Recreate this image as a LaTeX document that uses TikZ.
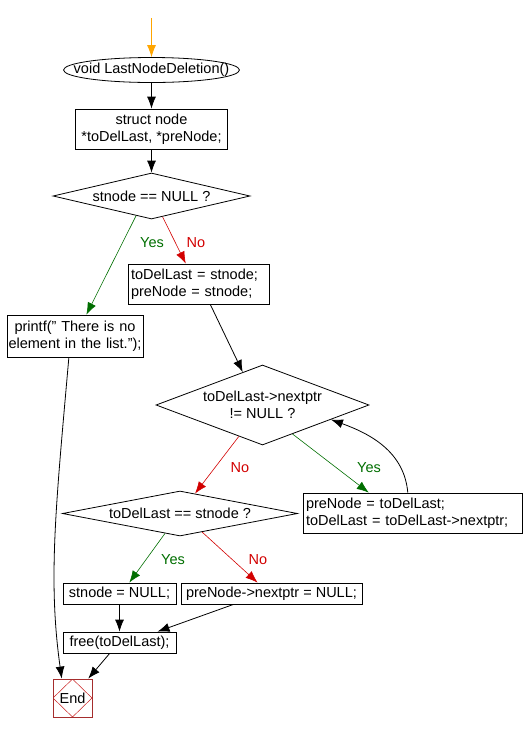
\documentclass[tikz,border=0pt]{standalone}
\usepackage{tikz}
\usepackage{xcolor}
\usepackage{fontspec}
\setmainfont{Liberation Sans}
\usetikzlibrary{shapes.geometric,arrows.meta}
\definecolor{startorange}{RGB}{255, 165, 0}
\definecolor{yesgreen}{RGB}{0, 110, 0}
\definecolor{nored}{RGB}{210, 0, 0}
\definecolor{endframe}{RGB}{165, 45, 45}
\definecolor{enddiag}{RGB}{200, 30, 30}

\begin{document}
\begin{tikzpicture}[x=1pt, y=1pt,
        font=\fontsize{14.5}{17}\selectfont,
        every node/.style={inner sep=0pt},
        box/.style={draw, line width=0.8pt, minimum height=21pt, align=center},
        leftbox/.style={draw, line width=0.8pt, align=left, inner xsep=3pt, minimum height=40pt},
        test/.style={draw, diamond, line width=0.8pt, align=center},
        flow/.style={line width=0.8pt, -{Latex[length=12pt,width=9pt]}},
        yesflow/.style={flow, yesgreen, line width=0.6pt},
        noflow/.style={flow, nored, line width=0.6pt},
        yeslbl/.style={text=yesgreen},
        nolbl/.style={text=nored}]
        \useasboundingbox (0,0) rectangle (524,-732);

        % blocks
        \node[draw, ellipse, line width=0.8pt, minimum width=176pt, minimum height=25pt] (func) at (151.5,-70) {\makebox[100pt]{void LastNodeDeletion()}};
        \node[box, minimum width=152pt, minimum height=40pt] (decl) at (151.5,-129) {struct node\\{}*toDelLast, *preNode;};
        \node[test, aspect=4.28, minimum width=197pt, minimum height=46pt] (chkempty) at (151.5,-196) {stnode == NULL ?};
        \node[leftbox, text width=135pt] (init) at (198.5,-284) {toDelLast = stnode;\\preNode = stnode;};
        \node[box, text width=136pt, minimum height=42pt] (msg) at (75,-336) {printf(" There is no\\element in the list.");};
        \node[test, aspect=2.66, minimum width=213pt, minimum height=80pt] (chknext) at (262.5,-405) {toDelLast->nextptr\\!= NULL ?};
        \node[leftbox, text width=213pt] (advance) at (412.5,-513) {preNode = toDelLast;\\toDelLast = toDelLast->nextptr;};
        \node[test, aspect=5.2, minimum width=235pt, minimum height=45pt] (chklast) at (180,-513.5) {toDelLast == stnode ?};
        \node[box, minimum width=113pt] (setnull) at (119.5,-593.5) {stnode = NULL;};
        \node[box, minimum width=181pt] (unlink) at (271.5,-593.5) {preNode->nextptr = NULL;};
        \node[box, minimum width=113pt] (free) at (119.5,-642.5) {free(toDelLast);};
        \node[draw=endframe, line width=0.8pt, minimum width=39pt, minimum height=38pt,
            path picture={\draw[enddiag, line width=0.5pt] (path picture bounding box.north) -- (path picture bounding box.east)
                -- (path picture bounding box.south) -- (path picture bounding box.west) -- cycle;}] (stop) at (72.5,-698) {End};

        % labels
        \node[yeslbl] (yes1) at (152,-243) {Yes};
        \node[nolbl] (no1) at (196,-243) {No};
        \node[nolbl] (no2) at (240,-468) {No};
        \node[yeslbl] (yes2) at (369,-468) {Yes};
        \node[yeslbl] (yes3) at (173,-560) {Yes};
        \node[nolbl] (no3) at (258,-560) {No};

        % connectors
        \coordinate (start) at (151.5,-18);
        \draw[flow, startorange] (start) -- (func);
        \draw[flow] (func) -- (decl);
        \draw[flow] (decl) -- (chkempty);
        \draw[yesflow] (chkempty.232) -- (msg.62);
        \draw[noflow] (chkempty.298) -- (init.122);
        \draw[flow] (init.300) -- (chknext.121);
        \draw[noflow] (chknext.233) -- (chklast.53);
        \draw[yesflow] (chknext.316) -- (advance.155);
        \draw[flow] (advance.103) to[out=95, in=-20] (chknext.348);
        \draw[yesflow] (chklast.233) -- (setnull.48);
        \draw[noflow] (chklast.320) -- (unlink.142);
        \draw[flow] (setnull) -- (free);
        \draw[flow] (unlink.196) -- (free.16);
        \draw[flow] (free.228) -- (stop.51);
        \draw[flow] (msg.254) .. controls +(-95:150) and +(98:100) .. (stop.119);
\end{tikzpicture}
\end{document}
